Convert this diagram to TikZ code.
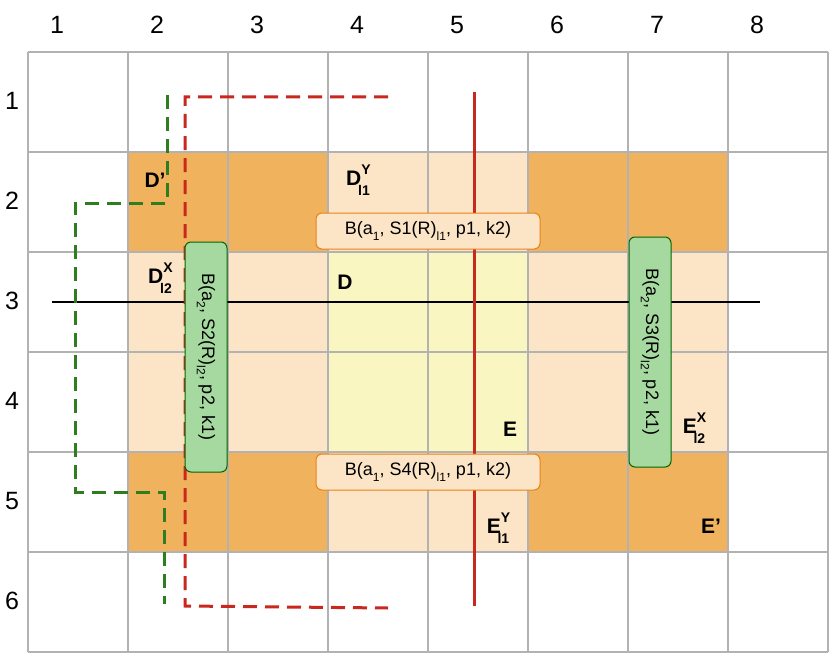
\documentclass[tikz,border=0pt]{standalone}
\usepackage{fontspec}
\setmainfont{Liberation Sans}
\newcommand{\sps}[2]{\raisebox{0.55em}{\fontsize{14}{15}\selectfont #1}\kern-0.6em\raisebox{-0.45em}{\fontsize{14}{15}\selectfont #2}}
\newcommand{\sbs}[1]{\raisebox{-0.3em}{\fontsize{12}{13}\selectfont #1}}
\begin{document}
\begin{tikzpicture}[x=1pt,y=-1pt,
  lbl/.style={font=\fontsize{21}{24}\selectfont\bfseries, inner sep=0pt},
  num/.style={font=\fontsize{25}{28}\selectfont, inner sep=0pt},
  obox/.style={draw=orange!70!brown, fill=peach, rounded corners=6pt, line width=1pt, minimum width=224pt, minimum height=36pt, inner sep=2pt, font=\fontsize{18}{20}\selectfont},
  gbox/.style={draw=green!40!black, fill=gfill, rounded corners=6pt, line width=1pt, minimum width=230pt, minimum height=42pt, inner sep=2pt, rotate=-90, font=\fontsize{18}{20}\selectfont}]
\definecolor{dark}{HTML}{F0B25C}
\definecolor{peach}{HTML}{FCE5C6}
\definecolor{yel}{HTML}{FAF6C2}
\definecolor{gfill}{HTML}{A6D9A0}
\definecolor{redl}{HTML}{C8281E}
\definecolor{grn}{HTML}{2E7D1E}
\useasboundingbox (0,0) rectangle (832,658);
\fill[white] (0,0) rectangle (832,658);
\fill[dark] (128,152) rectangle (328,252);
\fill[dark] (528,152) rectangle (728,252);
\fill[dark] (128,452) rectangle (328,552);
\fill[dark] (528,452) rectangle (728,552);
\fill[peach] (328,152) rectangle (528,252);
\fill[peach] (328,452) rectangle (528,552);
\fill[peach] (128,252) rectangle (328,452);
\fill[peach] (528,252) rectangle (728,452);
\fill[yel] (328,252) rectangle (528,452);
\foreach \i in {0,...,8} \draw[gray!60, line width=1.5pt] ({28+100*\i},52) -- ({28+100*\i},652);
\foreach \j in {0,...,6} \draw[gray!60, line width=1.5pt] (28,{52+100*\j}) -- (828,{52+100*\j});
\foreach \i in {1,...,8} \node[num] (c\i) at ({57+100*(\i-1)},25) {\i};
\foreach \i in {1,...,6} \node[num] (r\i) at (12,{101+100*(\i-1)}) {\i};
\coordinate (h1) at (52,302); \coordinate (h2) at (760,302);
\draw[black, line width=1.2pt] (h1) -- (h2);
\coordinate (v1) at (474,92); \coordinate (v2) at (474,606);
\draw[redl, line width=3pt] (v1) -- (v2);
\coordinate (ra) at (388,97); \coordinate (rb) at (388,608);
\draw[redl, line width=3pt, dash pattern=on 14pt off 8pt] (ra) -- (185,97) -- (185,606) -- (rb);
\coordinate (ga) at (167,95); \coordinate (gb) at (164,604);
\draw[grn, line width=3pt, dash pattern=on 14pt off 8pt] (ga) -- (167,203) -- (75,203) -- (75,492) -- (164,492) -- (gb);
\node[obox] (b1) at (428,231) {B(a\sbs{1}, S1(R)\sbs{l1}, p1, k2)};
\node[obox] (b4) at (428,472) {B(a\sbs{1}, S4(R)\sbs{l1}, p1, k2)};
\node[gbox] (b2) at (206,357) {B(a\sbs{2}, S2(R)\sbs{l2}, p2, k1)};
\node[gbox] (b3) at (650,352) {B(a\sbs{2}, S3(R)\sbs{l2}, p2, k1)};
\node[lbl] (dp) at (155,180) {D'};
\node[lbl] (dy) at (358,180) {D\sps{Y}{l1}};
\node[lbl] (dx) at (160,278) {D\sps{X}{l2}};
\node[lbl] (d) at (345,282) {D};
\node[lbl] (e) at (510,429) {E};
\node[lbl] (ex) at (694,428) {E\sps{X}{l2}};
\node[lbl] (ey) at (498,528) {E\sps{Y}{l1}};
\node[lbl] (ep) at (711,526) {E'};
\end{tikzpicture}
\end{document}
